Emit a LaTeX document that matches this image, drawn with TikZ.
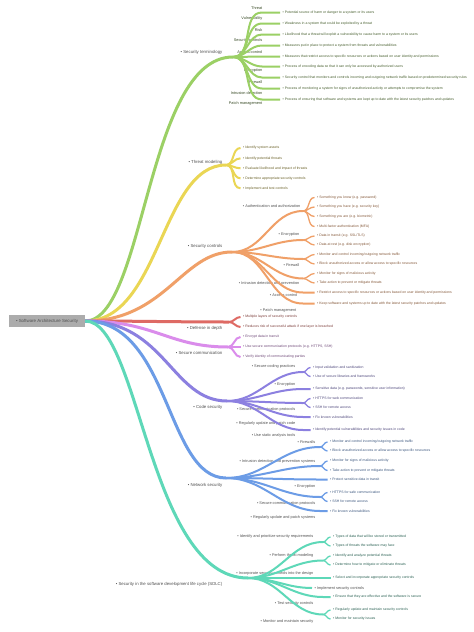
\documentclass[tikz,border=0pt]{standalone}
\usepackage{fontspec}
\setmainfont{Liberation Sans}
\usepackage{tikz}
\definecolor{gterm}{RGB}{155,208,101}
\definecolor{ymodel}{RGB}{234,214,84}
\definecolor{octrl}{RGB}{240,160,104}
\definecolor{rdepth}{RGB}{222,106,100}
\definecolor{mcomm}{RGB}{218,140,235}
\definecolor{pcode}{RGB}{140,128,224}
\definecolor{bnet}{RGB}{108,156,230}
\definecolor{tsdlc}{RGB}{94,216,184}
\definecolor{rootgray}{RGB}{172,172,172}
\definecolor{labelgray}{RGB}{80,80,80}
\tikzset{rootbox/.style={fill=rootgray,text=labelgray,minimum width=76pt,minimum height=12pt,inner sep=1pt,font=\fontsize{4.4}{5}\selectfont}}
\tikzset{topic/.style={anchor=east,text=labelgray,inner sep=0.5pt,font=\fontsize{4.3}{5}\selectfont}}
\tikzset{sub/.style={text=labelgray,inner sep=0.5pt,font=\fontsize{3.85}{4.5}\selectfont}}
\tikzset{leaf/.style={anchor=west,inner xsep=2.5pt,inner ysep=0.5pt,font=\fontsize{3.45}{4}\selectfont}}
\tikzset{trunk/.style={line width=3pt}}
\tikzset{twig/.style={line width=2pt}}
\tikzset{sprig/.style={line width=1.3pt}}
\tikzset{fan/.style={out=0,in=180}}

\begin{document}
\begin{tikzpicture}[x=1pt,y=-1pt]
    \useasboundingbox[fill=white] (0,0) rectangle (474,632);
    \node[rootbox] (root) at (47,321) {• Software Architecture Security};

    % security terminology
    \coordinate (gJ) at (233,57);
    \draw[trunk,gterm] (root.east) to[fan,out distance=60pt,in distance=87pt] (gJ);
    \node[topic] (term) at (223,52) {• Security terminology};
    \node[sub,anchor=east,text=gterm!35!black] (thr) at (263,8) {Threat};
    \node[sub,anchor=east,text=gterm!35!black] (vul) at (263,19) {Vulnerability};
    \node[sub,anchor=east,text=gterm!35!black] (rsk) at (263,30) {Risk};
    \node[sub,anchor=east,text=gterm!35!black] (sec) at (263,41) {Security controls};
    \node[sub,anchor=east,text=gterm!35!black] (acc) at (263,52) {Access control};
    \node[sub,anchor=east,text=gterm!35!black] (enc) at (263,71) {Encryption};
    \node[sub,anchor=east,text=gterm!35!black] (fwl) at (263,82) {Firewall};
    \node[sub,anchor=east,text=gterm!35!black] (ids) at (263,93) {Intrusion detection};
    \node[sub,anchor=east,text=gterm!35!black] (pat) at (263,104) {Patch management};
    \coordinate (g1) at (262,12.5);
    \coordinate (g2) at (262,23.5);
    \coordinate (g3) at (262,34.5);
    \coordinate (g4) at (262,45.5);
    \coordinate (g5) at (262,56.5);
    \coordinate (g6) at (262,66.5);
    \coordinate (g7) at (262,77.5);
    \coordinate (g8) at (262,88.5);
    \coordinate (g9) at (262,99.5);
    \node[leaf,text=gterm!45!black] (thrl) at (280,12.5) {• Potential source of harm or danger to a system or its users};
    \node[leaf,text=gterm!45!black] (vull) at (280,23.5) {• Weakness in a system that could be exploited by a threat};
    \node[leaf,text=gterm!45!black] (rskl) at (280,34.5) {• Likelihood that a threat will exploit a vulnerability to cause harm to a system or its users};
    \node[leaf,text=gterm!45!black] (secl) at (280,45.5) {• Measures put in place to protect a system from threats and vulnerabilities};
    \node[leaf,text=gterm!45!black] (accl) at (280,56.5) {• Measures that restrict access to specific resources or actions based on user identity and permissions};
    \node[leaf,text=gterm!45!black] (encl) at (280,66.5) {• Process of encoding data so that it can only be accessed by authorized users};
    \node[leaf,text=gterm!45!black] (fwll) at (280,77.5) {• Security control that monitors and controls incoming and outgoing network traffic based on predetermined security rules};
    \node[leaf,text=gterm!45!black] (idsl) at (280,88.5) {• Process of monitoring a system for signs of unauthorized activity or attempts to compromise the system};
    \node[leaf,text=gterm!45!black] (patl) at (280,99.5) {• Process of ensuring that software and systems are kept up to date with the latest security patches and updates};
    \draw[twig,gterm] (gJ) to[fan] (g1) -- (thrl.west);
    \draw[twig,gterm] (gJ) to[fan] (g2) -- (vull.west);
    \draw[twig,gterm] (gJ) to[fan] (g3) -- (rskl.west);
    \draw[twig,gterm] (gJ) to[fan] (g4) -- (secl.west);
    \draw[twig,gterm] (gJ) to[fan] (g5) -- (accl.west);
    \draw[twig,gterm] (gJ) to[fan] (g6) -- (encl.west);
    \draw[twig,gterm] (gJ) to[fan] (g7) -- (fwll.west);
    \draw[twig,gterm] (gJ) to[fan] (g8) -- (idsl.west);
    \draw[twig,gterm] (gJ) to[fan] (g9) -- (patl.west);

    % threat modeling
    \coordinate (yJ) at (226,165);
    \draw[trunk,ymodel] (root.east) to[fan,out distance=75pt,in distance=65pt] (yJ);
    \node[topic] (tmod) at (223,162.5) {• Threat modeling};
    \node[leaf,text=ymodel!45!black] (ym1) at (240.5,148) {• Identify system assets};
    \node[leaf,text=ymodel!45!black] (ym2) at (240.5,158.3) {• Identify potential threats};
    \node[leaf,text=ymodel!45!black] (ym3) at (240.5,168.3) {• Evaluate likelihood and impact of threats};
    \node[leaf,text=ymodel!45!black] (ym4) at (240.5,178.3) {• Determine appropriate security controls};
    \node[leaf,text=ymodel!45!black] (ym5) at (240.5,188.3) {• Implement and test controls};
    \draw[twig,ymodel] (yJ) to[fan] (ym1.west);
    \draw[twig,ymodel] (yJ) to[fan] (ym2.west);
    \draw[twig,ymodel] (yJ) to[fan] (ym3.west);
    \draw[twig,ymodel] (yJ) to[fan] (ym4.west);
    \draw[twig,ymodel] (yJ) to[fan] (ym5.west);

    % security controls
    \coordinate (oJ) at (232,252);
    \draw[trunk,octrl] (root.east) to[fan,out distance=80pt,in distance=50pt] (oJ);
    \node[topic] (sctl) at (223,246) {• Security controls};
    \node[sub,anchor=east] (auth) at (301,206) {• Authentication and authorization};
    \node[sub,anchor=east] (oenc) at (300,235) {• Encryption};
    \node[sub,anchor=east] (ofw) at (300,265) {• Firewall};
    \node[sub,anchor=east] (oids) at (300,284) {• Intrusion detection and prevention};
    \node[sub,anchor=east] (oacc) at (298,295) {• Access control};
    \node[sub,anchor=east] (opat) at (297,310) {• Patch management};
    \coordinate (oa) at (303,211);
    \coordinate (oe) at (303,240);
    \coordinate (of) at (303,259);
    \coordinate (oi) at (303,278.5);
    \coordinate (oc) at (303,292.5);
    \coordinate (op) at (303,303.5);
    \node[leaf,text=octrl!55!black] (oa1) at (314.5,197.5) {• Something you know (e.g. password)};
    \node[leaf,text=octrl!55!black] (oa2) at (314.5,207) {• Something you have (e.g. security key)};
    \node[leaf,text=octrl!55!black] (oa3) at (314.5,216.5) {• Something you are (e.g. biometric)};
    \node[leaf,text=octrl!55!black] (oa4) at (314.5,226.5) {• Multi-factor authentication (MFA)};
    \node[leaf,text=octrl!55!black] (oe1) at (314.5,236) {• Data in transit (e.g. SSL/TLS)};
    \node[leaf,text=octrl!55!black] (oe2) at (314.5,245) {• Data at rest (e.g. disk encryption)};
    \node[leaf,text=octrl!55!black] (of1) at (314.5,254.5) {• Monitor and control incoming/outgoing network traffic};
    \node[leaf,text=octrl!55!black] (of2) at (314.5,264) {• Block unauthorized access or allow access to specific resources};
    \node[leaf,text=octrl!55!black] (oi1) at (314.5,273.5) {• Monitor for signs of malicious activity};
    \node[leaf,text=octrl!55!black] (oi2) at (314.5,283) {• Take action to prevent or mitigate threats};
    \node[leaf,text=octrl!55!black] (oc1) at (314.5,292.5) {• Restrict access to specific resources or actions based on user identity and permissions};
    \node[leaf,text=octrl!55!black] (op1) at (314.5,303.5) {• Keep software and systems up to date with the latest security patches and updates};
    \draw[twig,octrl] (oJ) to[fan] (oa);
    \draw[twig,octrl] (oJ) to[fan] (oe);
    \draw[twig,octrl] (oJ) to[fan] (of);
    \draw[twig,octrl] (oJ) to[fan] (oi);
    \draw[twig,octrl] (oJ) to[fan] (oc) -- (oc1.west);
    \draw[twig,octrl] (oJ) to[fan] (op) -- (op1.west);
    \draw[sprig,octrl] (oa) to[fan] (oa1.west);
    \draw[sprig,octrl] (oa) to[fan] (oa2.west);
    \draw[sprig,octrl] (oa) to[fan] (oa3.west);
    \draw[sprig,octrl] (oa) to[fan] (oa4.west);
    \draw[sprig,octrl] (oe) to[fan] (oe1.west);
    \draw[sprig,octrl] (oe) to[fan] (oe2.west);
    \draw[sprig,octrl] (of) to[fan] (of1.west);
    \draw[sprig,octrl] (of) to[fan] (of2.west);
    \draw[sprig,octrl] (oi) to[fan] (oi1.west);
    \draw[sprig,octrl] (oi) to[fan] (oi2.west);

    % defense in depth
    \coordinate (rJ) at (229,322);
    \draw[trunk,rdepth] (root.east) to[fan,out distance=50pt,in distance=50pt] (rJ);
    \node[topic] (dind) at (223,328) {• Defense in depth};
    \node[leaf,text=rdepth!55!black] (rd1) at (240.5,317) {• Multiple layers of security controls};
    \node[leaf,text=rdepth!55!black] (rd2) at (240.5,327) {• Reduces risk of successful attack if one layer is breached};
    \draw[twig,rdepth] (rJ) to[fan] (rd1.west);
    \draw[twig,rdepth] (rJ) to[fan] (rd2.west);

    % secure communication
    \coordinate (mJ) at (228,347);
    \draw[trunk,mcomm] (root.east) to[fan,out distance=70pt,in distance=60pt] (mJ);
    \node[topic] (scom) at (223,353) {• Secure communication};
    \node[leaf,text=mcomm!50!black] (mc1) at (240.5,337) {• Encrypt data in transit};
    \node[leaf,text=mcomm!50!black] (mc2) at (240.5,347) {• Use secure communication protocols (e.g. HTTPS, SSH)};
    \node[leaf,text=mcomm!50!black] (mc3) at (240.5,357) {• Verify identity of communicating parties};
    \draw[twig,mcomm] (mJ) to[fan] (mc1.west);
    \draw[twig,mcomm] (mJ) to[fan] (mc2.west);
    \draw[twig,mcomm] (mJ) to[fan] (mc3.west);

    % code security
    \coordinate (pJ) at (227,401);
    \draw[trunk,pcode] (root.east) to[fan,out distance=80pt,in distance=55pt] (pJ);
    \node[topic] (csec) at (223,407) {• Code security};
    \node[sub,anchor=east] (pscp) at (296,366) {• Secure coding practices};
    \node[sub,anchor=east] (penc) at (296,384) {• Encryption};
    \node[sub,anchor=east] (pscm) at (296,409) {• Secure communication protocols};
    \node[sub,anchor=east] (pupd) at (296,423) {• Regularly update and patch code};
    \node[sub,anchor=east] (psta) at (296,435) {• Use static analysis tools};
    \coordinate (pa) at (303,372);
    \coordinate (pe) at (303,389);
    \coordinate (pc) at (303,403);
    \coordinate (pu) at (303,417);
    \coordinate (ps) at (303,430);
    \node[leaf,text=pcode!55!black] (pa1) at (310.5,367.5) {• Input validation and sanitization};
    \node[leaf,text=pcode!55!black] (pa2) at (310.5,376.5) {• Use of secure libraries and frameworks};
    \node[leaf,text=pcode!55!black] (pe1) at (310.5,389) {• Sensitive data (e.g. passwords, sensitive user information)};
    \node[leaf,text=pcode!55!black] (pc1) at (310.5,398.5) {• HTTPS for web communication};
    \node[leaf,text=pcode!55!black] (pc2) at (310.5,407.5) {• SSH for remote access};
    \node[leaf,text=pcode!55!black] (pu1) at (310.5,417) {• Fix known vulnerabilities};
    \node[leaf,text=pcode!55!black] (ps1) at (310.5,430) {• Identify potential vulnerabilities and security issues in code};
    \draw[twig,pcode] (pJ) to[fan] (pa);
    \draw[twig,pcode] (pJ) to[fan] (pe) -- (pe1.west);
    \draw[twig,pcode] (pJ) to[fan] (pc);
    \draw[twig,pcode] (pJ) to[fan] (pu) -- (pu1.west);
    \draw[twig,pcode] (pJ) to[fan] (ps) -- (ps1.west);
    \draw[sprig,pcode] (pa) to[fan] (pa1.west);
    \draw[sprig,pcode] (pa) to[fan] (pa2.west);
    \draw[sprig,pcode] (pc) to[fan] (pc1.west);
    \draw[sprig,pcode] (pc) to[fan] (pc2.west);

    % network security
    \coordinate (bJ) at (226,478);
    \draw[trunk,bnet] (root.east) to[fan,out distance=85pt,in distance=60pt] (bJ);
    \node[topic] (nsec) at (223,485) {• Network security};
    \node[sub,anchor=east] (bfw) at (316,442) {• Firewalls};
    \node[sub,anchor=east] (bids) at (316,461) {• Intrusion detection and prevention systems};
    \node[sub,anchor=east] (benc) at (316,486) {• Encryption};
    \node[sub,anchor=east] (bscp) at (316,503) {• Secure communication protocols};
    \node[sub,anchor=east] (bupd) at (316,517) {• Regularly update and patch systems};
    \coordinate (bf) at (320,447);
    \coordinate (bi) at (320,466);
    \coordinate (be) at (320,479.5);
    \coordinate (bc) at (320,497);
    \coordinate (bu) at (320,511);
    \node[leaf,text=bnet!55!black] (bf1) at (327.5,442) {• Monitor and control incoming/outgoing network traffic};
    \node[leaf,text=bnet!55!black] (bf2) at (327.5,451) {• Block unauthorized access or allow access to specific resources};
    \node[leaf,text=bnet!55!black] (bi1) at (327.5,461) {• Monitor for signs of malicious activity};
    \node[leaf,text=bnet!55!black] (bi2) at (327.5,470.5) {• Take action to prevent or mitigate threats};
    \node[leaf,text=bnet!55!black] (be1) at (327.5,479.5) {• Protect sensitive data in transit};
    \node[leaf,text=bnet!55!black] (bc1) at (327.5,492.5) {• HTTPS for safe communication};
    \node[leaf,text=bnet!55!black] (bc2) at (327.5,501.5) {• SSH for remote access};
    \node[leaf,text=bnet!55!black] (bu1) at (327.5,511) {• Fix known vulnerabilities};
    \draw[twig,bnet] (bJ) to[fan] (bf);
    \draw[twig,bnet] (bJ) to[fan] (bi);
    \draw[twig,bnet] (bJ) to[fan] (be) -- (be1.west);
    \draw[twig,bnet] (bJ) to[fan] (bc);
    \draw[twig,bnet] (bJ) to[fan] (bu) -- (bu1.west);
    \draw[sprig,bnet] (bf) to[fan] (bf1.west);
    \draw[sprig,bnet] (bf) to[fan] (bf2.west);
    \draw[sprig,bnet] (bi) to[fan] (bi1.west);
    \draw[sprig,bnet] (bi) to[fan] (bi2.west);
    \draw[sprig,bnet] (bc) to[fan] (bc1.west);
    \draw[sprig,bnet] (bc) to[fan] (bc2.west);

    % sdlc
    \coordinate (tJ) at (248,578);
    \draw[trunk,tsdlc] (root.east) to[fan,out distance=55pt,in distance=100pt] (tJ);
    \node[topic] (sdlc) at (223,584) {• Security in the software development life cycle (SDLC)};
    \node[sub,anchor=east] (treq) at (314,536) {• Identify and prioritize security requirements};
    \node[sub,anchor=east] (tthr) at (314,555) {• Perform threat modeling};
    \node[sub,anchor=east] (tinc) at (314,573) {• Incorporate security controls into the design};
    \node[sub,anchor=west,inner xsep=2.5pt] (timp) at (312,588) {• Implement security controls};
    \node[sub,anchor=east] (ttst) at (314,603) {• Test security controls};
    \node[sub,anchor=east] (tmon) at (314,621) {• Monitor and maintain security};
    \coordinate (tr) at (323,542);
    \coordinate (tt) at (323,560.5);
    \coordinate (ti) at (323,578);
    \coordinate (ts) at (323,597);
    \coordinate (tm) at (323,614.5);
    \node[leaf,text=tsdlc!45!black] (tr1) at (330.5,537) {• Types of data that will be stored or transmitted};
    \node[leaf,text=tsdlc!45!black] (tr2) at (330.5,546) {• Types of threats the software may face};
    \node[leaf,text=tsdlc!45!black] (tt1) at (330.5,556) {• Identify and analyze potential threats};
    \node[leaf,text=tsdlc!45!black] (tt2) at (330.5,565) {• Determine how to mitigate or eliminate threats};
    \node[leaf,text=tsdlc!45!black] (ti1) at (330.5,578) {• Select and incorporate appropriate security controls};
    \node[leaf,text=tsdlc!45!black] (ts1) at (330.5,597) {• Ensure that they are effective and the software is secure};
    \node[leaf,text=tsdlc!45!black] (tm1) at (330.5,610) {• Regularly update and maintain security controls};
    \node[leaf,text=tsdlc!45!black] (tm2) at (330.5,619) {• Monitor for security issues};
    \draw[twig,tsdlc] (tJ) to[fan] (tr);
    \draw[twig,tsdlc] (tJ) to[fan] (tt);
    \draw[twig,tsdlc] (tJ) to[fan] (ti) -- (ti1.west);
    \draw[twig,tsdlc] (tJ) to[fan] (timp.west);
    \draw[twig,tsdlc] (tJ) to[fan] (ts) -- (ts1.west);
    \draw[twig,tsdlc] (tJ) to[fan] (tm);
    \draw[sprig,tsdlc] (tr) to[fan] (tr1.west);
    \draw[sprig,tsdlc] (tr) to[fan] (tr2.west);
    \draw[sprig,tsdlc] (tt) to[fan] (tt1.west);
    \draw[sprig,tsdlc] (tt) to[fan] (tt2.west);
    \draw[sprig,tsdlc] (tm) to[fan] (tm1.west);
    \draw[sprig,tsdlc] (tm) to[fan] (tm2.west);
  \end{tikzpicture}
\end{document}
